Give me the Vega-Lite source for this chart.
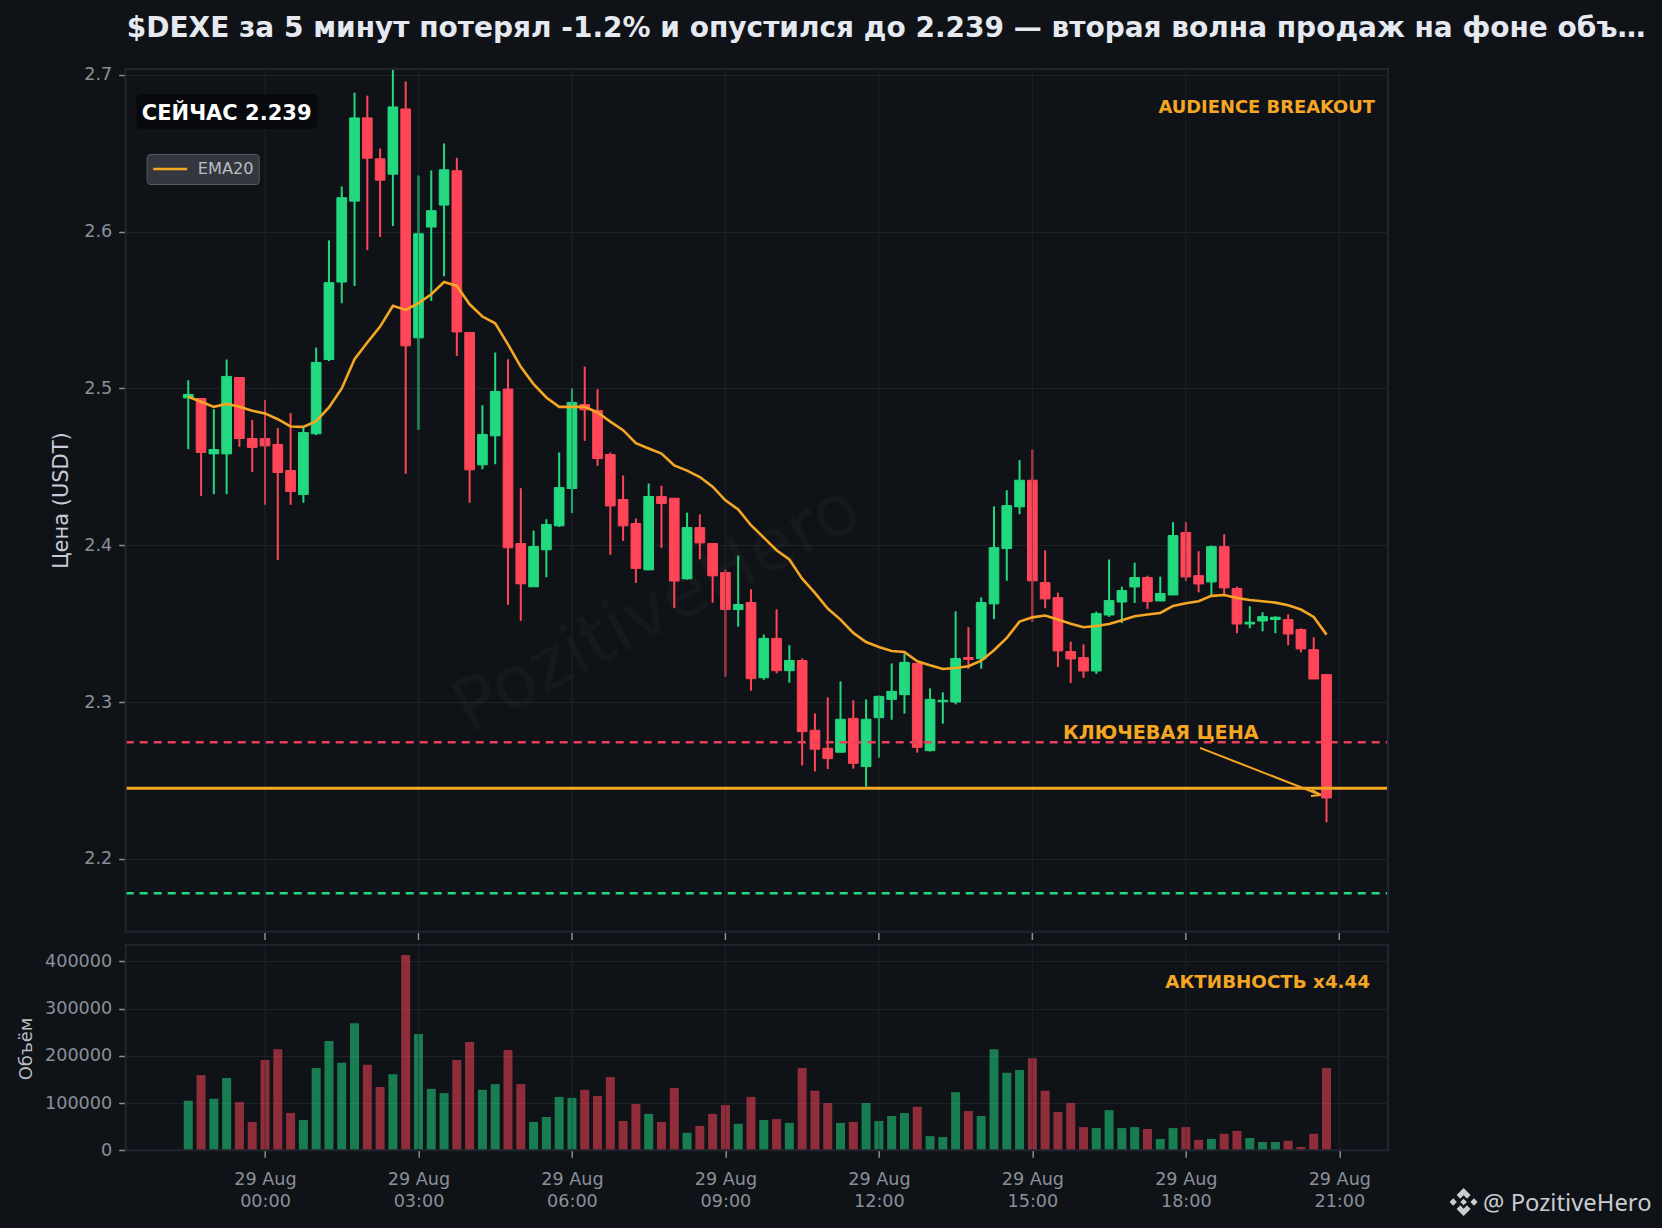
{
  "$schema": "https://vega.github.io/schema/vega-lite/v6.json",
  "description": "DEXE 15 minute candles with EMA20 and volume",
  "background": "#0f1318",
  "autosize": {"type": "none"},
  "padding": {"left": 125.7, "top": 69, "right": 274, "bottom": 77.7},
  "width": 1262.3,
  "height": 1081.3,
  "title": {
    "text": "$DEXE за 5 минут потерял -1.2% и опустился до 2.239 — вторая волна продаж на фоне объ…",
    "anchor": "start",
    "frame": "group",
    "font": "DejaVu Sans",
    "fontSize": 28,
    "fontWeight": "bold",
    "color": "#e6e9f0",
    "baseline": "alphabetic",
    "offset": 1.3,
    "dx": 1
  },
  "datasets": {
    "candles": [
      {"hour":-1.5,"open":2.4940,"high":2.5053,"low":2.4613,"close":2.4962,"volume":105000,"ema":2.4947},
      {"hour":-1.25,"open":2.4936,"high":2.4936,"low":2.4315,"close":2.4592,"volume":159000,"ema":2.4915},
      {"hour":-1,"open":2.4583,"high":2.4868,"low":2.4326,"close":2.4611,"volume":109000,"ema":2.4883},
      {"hour":-0.75,"open":2.4583,"high":2.5185,"low":2.4326,"close":2.5077,"volume":153000,"ema":2.4902},
      {"hour":-0.5,"open":2.5070,"high":2.5070,"low":2.4628,"close":2.4681,"volume":102000,"ema":2.4883},
      {"hour":-0.25,"open":2.4681,"high":2.4798,"low":2.4468,"close":2.4624,"volume":60000,"ema":2.4858},
      {"hour":0,"open":2.4681,"high":2.4926,"low":2.4258,"close":2.4634,"volume":191000,"ema":2.4841},
      {"hour":0.25,"open":2.4643,"high":2.4747,"low":2.3905,"close":2.4464,"volume":214000,"ema":2.4804},
      {"hour":0.5,"open":2.4477,"high":2.4843,"low":2.4258,"close":2.4343,"volume":79000,"ema":2.4758},
      {"hour":0.75,"open":2.4324,"high":2.4751,"low":2.4271,"close":2.4719,"volume":64000,"ema":2.4755},
      {"hour":1,"open":2.4711,"high":2.5261,"low":2.4702,"close":2.5166,"volume":174000,"ema":2.4792},
      {"hour":1.25,"open":2.5185,"high":2.5945,"low":2.5175,"close":2.5675,"volume":231000,"ema":2.4879},
      {"hour":1.5,"open":2.5679,"high":2.6289,"low":2.5544,"close":2.6217,"volume":185000,"ema":2.5000},
      {"hour":1.75,"open":2.6195,"high":2.6887,"low":2.5654,"close":2.6726,"volume":269000,"ema":2.5187},
      {"hour":2,"open":2.6726,"high":2.6868,"low":2.5883,"close":2.6469,"volume":181000,"ema":2.5293},
      {"hour":2.25,"open":2.6465,"high":2.6531,"low":2.5966,"close":2.6329,"volume":134000,"ema":2.5395},
      {"hour":2.5,"open":2.6367,"high":2.7034,"low":2.6036,"close":2.6796,"volume":161000,"ema":2.5527},
      {"hour":2.75,"open":2.6783,"high":2.6958,"low":2.4456,"close":2.5272,"volume":413000,"ema":2.5501},
      {"hour":3,"open":2.5323,"high":2.6359,"low":2.4736,"close":2.5987,"volume":246000,"ema":2.5544},
      {"hour":3.25,"open":2.6030,"high":2.6391,"low":2.5558,"close":2.6134,"volume":130000,"ema":2.5601},
      {"hour":3.5,"open":2.6170,"high":2.6563,"low":2.5716,"close":2.6395,"volume":121000,"ema":2.5679},
      {"hour":3.75,"open":2.6389,"high":2.6471,"low":2.5208,"close":2.5361,"volume":191000,"ema":2.5654},
      {"hour":4,"open":2.5357,"high":2.5357,"low":2.4271,"close":2.4481,"volume":229000,"ema":2.5537},
      {"hour":4.25,"open":2.4513,"high":2.4894,"low":2.4485,"close":2.4707,"volume":128000,"ema":2.5459},
      {"hour":4.5,"open":2.4698,"high":2.5229,"low":2.4517,"close":2.4981,"volume":140000,"ema":2.5416},
      {"hour":4.75,"open":2.4996,"high":2.5187,"low":2.3620,"close":2.3984,"volume":212000,"ema":2.5282},
      {"hour":5,"open":2.4011,"high":2.4364,"low":2.3518,"close":2.3754,"volume":140000,"ema":2.5138},
      {"hour":5.25,"open":2.3735,"high":2.4094,"low":2.3735,"close":2.3992,"volume":60000,"ema":2.5028},
      {"hour":5.5,"open":2.3971,"high":2.4166,"low":2.3796,"close":2.4132,"volume":70500,"ema":2.4943},
      {"hour":5.75,"open":2.4124,"high":2.4592,"low":2.4117,"close":2.4368,"volume":113000,"ema":2.4883},
      {"hour":6,"open":2.4362,"high":2.5000,"low":2.4205,"close":2.4911,"volume":111000,"ema":2.4883},
      {"hour":6.25,"open":2.4898,"high":2.5140,"low":2.4666,"close":2.4864,"volume":128000,"ema":2.4883},
      {"hour":6.5,"open":2.4860,"high":2.4996,"low":2.4507,"close":2.4553,"volume":115000,"ema":2.4847},
      {"hour":6.75,"open":2.4579,"high":2.4592,"low":2.3939,"close":2.4251,"volume":155000,"ema":2.4789},
      {"hour":7,"open":2.4292,"high":2.4445,"low":2.4028,"close":2.4124,"volume":62000,"ema":2.4734},
      {"hour":7.25,"open":2.4139,"high":2.4171,"low":2.3760,"close":2.3852,"volume":98000,"ema":2.4651},
      {"hour":7.5,"open":2.3843,"high":2.4394,"low":2.3843,"close":2.4311,"volume":77000,"ema":2.4617},
      {"hour":7.75,"open":2.4311,"high":2.4380,"low":2.3983,"close":2.4266,"volume":60000,"ema":2.4585},
      {"hour":8,"open":2.4300,"high":2.4300,"low":2.3600,"close":2.3772,"volume":132000,"ema":2.4509},
      {"hour":8.25,"open":2.3786,"high":2.4208,"low":2.3781,"close":2.4113,"volume":37000,"ema":2.4476},
      {"hour":8.5,"open":2.4113,"high":2.4197,"low":2.3911,"close":2.4015,"volume":51500,"ema":2.4435},
      {"hour":8.75,"open":2.4011,"high":2.4011,"low":2.3633,"close":2.3805,"volume":77000,"ema":2.4374},
      {"hour":9,"open":2.3826,"high":2.3845,"low":2.3161,"close":2.3590,"volume":96000,"ema":2.4287},
      {"hour":9.25,"open":2.3590,"high":2.3934,"low":2.3480,"close":2.3622,"volume":56000,"ema":2.4228},
      {"hour":9.5,"open":2.3635,"high":2.3720,"low":2.3072,"close":2.3149,"volume":113000,"ema":2.4128},
      {"hour":9.75,"open":2.3155,"high":2.3431,"low":2.3142,"close":2.3406,"volume":64000,"ema":2.4049},
      {"hour":10,"open":2.3406,"high":2.3592,"low":2.3183,"close":2.3200,"volume":66000,"ema":2.3968},
      {"hour":10.25,"open":2.3200,"high":2.3363,"low":2.3123,"close":2.3265,"volume":58000,"ema":2.3909},
      {"hour":10.5,"open":2.3265,"high":2.3278,"low":2.2595,"close":2.2811,"volume":174000,"ema":2.3787},
      {"hour":10.75,"open":2.2820,"high":2.2928,"low":2.2557,"close":2.2699,"volume":126000,"ema":2.3696},
      {"hour":11,"open":2.2705,"high":2.3030,"low":2.2573,"close":2.2639,"volume":100000,"ema":2.3596},
      {"hour":11.25,"open":2.2680,"high":2.3132,"low":2.2680,"close":2.2890,"volume":58000,"ema":2.3526},
      {"hour":11.5,"open":2.2896,"high":2.3011,"low":2.2575,"close":2.2609,"volume":60000,"ema":2.3441},
      {"hour":11.75,"open":2.2588,"high":2.3017,"low":2.2461,"close":2.2890,"volume":100000,"ema":2.3383},
      {"hour":12,"open":2.2900,"high":2.3042,"low":2.2645,"close":2.3036,"volume":62000,"ema":2.3351},
      {"hour":12.25,"open":2.3017,"high":2.3246,"low":2.2887,"close":2.3068,"volume":72600,"ema":2.3326},
      {"hour":12.5,"open":2.3047,"high":2.3310,"low":2.2926,"close":2.3253,"volume":79000,"ema":2.3319},
      {"hour":12.75,"open":2.3246,"high":2.3246,"low":2.2677,"close":2.2711,"volume":92000,"ema":2.3260},
      {"hour":13,"open":2.2690,"high":2.3087,"low":2.2684,"close":2.3017,"volume":30000,"ema":2.3234},
      {"hour":13.25,"open":2.3002,"high":2.3062,"low":2.2862,"close":2.3011,"volume":28000,"ema":2.3211},
      {"hour":13.5,"open":2.3000,"high":2.3578,"low":2.2985,"close":2.3278,"volume":123000,"ema":2.3217},
      {"hour":13.75,"open":2.3284,"high":2.3478,"low":2.3212,"close":2.3272,"volume":83000,"ema":2.3228},
      {"hour":14,"open":2.3276,"high":2.3667,"low":2.3212,"close":2.3635,"volume":72600,"ema":2.3264},
      {"hour":14.25,"open":2.3626,"high":2.4248,"low":2.3529,"close":2.3985,"volume":214000,"ema":2.3330},
      {"hour":14.5,"open":2.3979,"high":2.4351,"low":2.3773,"close":2.4253,"volume":164000,"ema":2.3409},
      {"hour":14.75,"open":2.4245,"high":2.4543,"low":2.4198,"close":2.4415,"volume":170000,"ema":2.3513},
      {"hour":15,"open":2.4415,"high":2.4611,"low":2.3511,"close":2.3773,"volume":195000,"ema":2.3540},
      {"hour":15.25,"open":2.3762,"high":2.3968,"low":2.3598,"close":2.3658,"volume":126000,"ema":2.3552},
      {"hour":15.5,"open":2.3666,"high":2.3698,"low":2.3224,"close":2.3326,"volume":81000,"ema":2.3526},
      {"hour":15.75,"open":2.3322,"high":2.3385,"low":2.3122,"close":2.3275,"volume":100000,"ema":2.3500},
      {"hour":16,"open":2.3283,"high":2.3368,"low":2.3154,"close":2.3198,"volume":49000,"ema":2.3477},
      {"hour":16.25,"open":2.3198,"high":2.3577,"low":2.3179,"close":2.3564,"volume":47000,"ema":2.3485},
      {"hour":16.5,"open":2.3555,"high":2.3909,"low":2.3543,"close":2.3647,"volume":85000,"ema":2.3498},
      {"hour":16.75,"open":2.3638,"high":2.3736,"low":2.3504,"close":2.3711,"volume":47000,"ema":2.3521},
      {"hour":17,"open":2.3734,"high":2.3889,"low":2.3632,"close":2.3794,"volume":49000,"ema":2.3547},
      {"hour":17.25,"open":2.3794,"high":2.3806,"low":2.3594,"close":2.3641,"volume":45000,"ema":2.3558},
      {"hour":17.5,"open":2.3645,"high":2.3800,"low":2.3645,"close":2.3692,"volume":24000,"ema":2.3568},
      {"hour":17.75,"open":2.3683,"high":2.4147,"low":2.3683,"close":2.4062,"volume":47000,"ema":2.3613},
      {"hour":18,"open":2.4081,"high":2.4147,"low":2.3772,"close":2.3798,"volume":49000,"ema":2.3630},
      {"hour":18.25,"open":2.3806,"high":2.3962,"low":2.3700,"close":2.3753,"volume":22000,"ema":2.3643},
      {"hour":18.5,"open":2.3766,"high":2.3998,"low":2.3681,"close":2.3991,"volume":24000,"ema":2.3677},
      {"hour":18.75,"open":2.3991,"high":2.4070,"low":2.3681,"close":2.3728,"volume":35000,"ema":2.3683},
      {"hour":19,"open":2.3724,"high":2.3736,"low":2.3439,"close":2.3498,"volume":41000,"ema":2.3664},
      {"hour":19.25,"open":2.3498,"high":2.3611,"low":2.3470,"close":2.3509,"volume":26000,"ema":2.3651},
      {"hour":19.5,"open":2.3517,"high":2.3573,"low":2.3451,"close":2.3545,"volume":17600,"ema":2.3643},
      {"hour":19.75,"open":2.3526,"high":2.3547,"low":2.3439,"close":2.3541,"volume":17600,"ema":2.3634},
      {"hour":20,"open":2.3526,"high":2.3560,"low":2.3362,"close":2.3434,"volume":20000,"ema":2.3617},
      {"hour":20.25,"open":2.3462,"high":2.3470,"low":2.3317,"close":2.3339,"volume":7000,"ema":2.3590},
      {"hour":20.5,"open":2.3334,"high":2.3413,"low":2.3147,"close":2.3147,"volume":35000,"ema":2.3543},
      {"hour":20.75,"open":2.3175,"high":2.3175,"low":2.2233,"close":2.2388,"volume":174000,"ema":2.3430}
    ],
    "hours": [{"hour":0},{"hour":3},{"hour":6},{"hour":9},{"hour":12},{"hour":15},{"hour":18},{"hour":21}],
    "span": [{"hour":-2.7231,"hour2":21.952}]
  },
  "config": {
    "view": {"stroke": null},
    "axis": {
      "zindex": 1,
      "gridColor": "#2a2e36",
      "gridOpacity": 0.55,
      "gridWidth": 1,
      "domain": false,
      "tickColor": "#8b8f98",
      "tickSize": 7,
      "tickWidth": 1.5,
      "labelColor": "#8b8f98",
      "labelFont": "DejaVu Sans",
      "labelFontSize": 17.6,
      "labelPadding": 7,
      "titleFont": "DejaVu Sans",
      "titleFontWeight": "normal"
    }
  },
  "encoding": {
    "x": {
      "field": "hour",
      "type": "quantitative",
      "title": null,
      "scale": {"domain": [-2.7231, 21.952], "nice": false, "zero": false, "padding": 0},
      "axis": {
        "grid": false,
        "values": [0, 3, 6, 9, 12, 15, 18, 21],
        "labelExpr": "['29 Aug', (datum.value < 10 ? '0' : '') + datum.value + ':00']",
        "labelLineHeight": 22.5,
        "labelPadding": 13
      }
    }
  },
  "layer": [
    {
      "layer": [
        {
          "data": {"values": [{"hour": 7.661, "price": 2.3592, "label": "PozitiveHero"}]},
          "mark": {"type": "text", "font": "DejaVu Sans", "fontSize": 72, "angle": 332, "color": "#ffffff", "opacity": 0.025, "align": "center", "baseline": "middle"},
          "encoding": {
            "y": {
              "field": "price",
              "type": "quantitative",
              "title": "Цена (USDT)",
              "scale": {"domain": [2.1535, 2.7038], "range": [862.7, 0], "nice": false, "zero": false},
              "axis": {"orient": "left", "grid": true, "values": [2.2, 2.3, 2.4, 2.5, 2.6, 2.7], "format": ".1f", "titleColor": "#c8ccd4", "titleFontSize": 21, "titleX": -54, "titleY": 431}
            },
            "text": {"field": "label"}
          }
        },
        {
          "data": {"name": "candles"},
          "mark": {"type": "rule", "strokeWidth": 2},
          "encoding": {
            "y": {"field": "low", "type": "quantitative"},
            "y2": {"field": "high"},
            "color": {"condition": {"test": "datum.close >= datum.open", "value": "#22d97f"}, "value": "#ff4557"}
          }
        },
        {
          "data": {"name": "candles"},
          "mark": {"type": "bar", "size": 9.7, "strokeWidth": 1},
          "encoding": {
            "y": {"field": "open", "type": "quantitative"},
            "y2": {"field": "close"},
            "color": {"condition": {"test": "datum.close >= datum.open", "value": "#22d97f"}, "value": "#ff4557"},
            "stroke": {"condition": {"test": "datum.close >= datum.open", "value": "#22d97f"}, "value": "#ff4557"}
          }
        },
        {
          "data": {"name": "hours"},
          "mark": {"type": "rule", "color": "#2a2e36", "opacity": 0.55, "strokeWidth": 1},
          "encoding": {"y": {"datum": 2.1535, "type": "quantitative"}, "y2": {"datum": 2.7038}}
        },
        {
          "data": {"name": "hours"},
          "mark": {"type": "rule", "color": "#8b8f98", "strokeWidth": 1.5},
          "encoding": {"y": {"datum": 2.1527, "type": "quantitative"}, "y2": {"datum": 2.1482}}
        },
        {
          "data": {"values": [{"hour": -2.7231, "hour2": 21.952, "price": 2.2743}]},
          "mark": {"type": "rule", "color": "#e8405a", "strokeWidth": 2.4, "strokeDash": [8, 6]},
          "encoding": {"x2": {"field": "hour2"}, "y": {"field": "price", "type": "quantitative"}}
        },
        {
          "data": {"values": [{"hour": -2.7231, "hour2": 21.952, "price": 2.178}]},
          "mark": {"type": "rule", "color": "#22d97f", "strokeWidth": 2.4, "strokeDash": [8, 6]},
          "encoding": {"x2": {"field": "hour2"}, "y": {"field": "price", "type": "quantitative"}}
        },
        {
          "data": {"values": [{"hour": -2.7231, "hour2": 21.952, "price": 2.245}]},
          "mark": {"type": "rule", "color": "#f5a623", "strokeWidth": 3.2},
          "encoding": {"x2": {"field": "hour2"}, "y": {"field": "price", "type": "quantitative"}}
        },
        {
          "data": {"name": "candles"},
          "mark": {"type": "line", "strokeWidth": 2.6},
          "encoding": {
            "y": {"field": "ema", "type": "quantitative"},
            "stroke": {
              "datum": "EMA20",
              "scale": {"domain": ["EMA20"], "range": ["#f5a623"]},
              "legend": {
                "title": null,
                "orient": "none",
                "legendX": 21,
                "legendY": 85,
                "padding": 5,
                "fillColor": "#34373e",
                "strokeColor": "#565a62",
                "cornerRadius": 3,
                "symbolType": "stroke",
                "symbolSize": 1156,
                "symbolStrokeWidth": 2.6,
                "clipHeight": 20,
                "labelFont": "DejaVu Sans",
                "labelFontSize": 16.2,
                "labelColor": "#b9bcc2",
                "labelOffset": 9
              }
            }
          }
        },
        {
          "data": {"values": [
            {"hour": 18.277, "hour2": 20.636, "price": 2.2708, "price2": 2.2407},
            {"hour": 20.447, "hour2": 20.636, "price": 2.2400, "price2": 2.2407},
            {"hour": 20.46, "hour2": 20.636, "price": 2.2439, "price2": 2.2407}
          ]},
          "mark": {"type": "rule", "color": "#f5a623", "strokeWidth": 2},
          "encoding": {
            "x2": {"field": "hour2"},
            "y": {"field": "price", "type": "quantitative"},
            "y2": {"field": "price2"}
          }
        },
        {
          "data": {"values": [{"hour": -2.514, "hour2": 1.0165, "price": 2.6879, "price2": 2.6656}]},
          "mark": {"type": "rect", "color": "#07090c", "cornerRadius": 4},
          "encoding": {
            "x2": {"field": "hour2"},
            "y": {"field": "price", "type": "quantitative"},
            "y2": {"field": "price2"}
          }
        },
        {
          "data": {"values": [{"hour": -2.408, "price": 2.6753, "label": "СЕЙЧАС 2.239"}]},
          "mark": {"type": "text", "font": "DejaVu Sans", "fontSize": 21, "fontWeight": "bold", "color": "#ffffff", "align": "left", "baseline": "middle"},
          "encoding": {"y": {"field": "price", "type": "quantitative"}, "text": {"field": "label"}}
        },
        {
          "data": {"values": [{"hour": 21.698, "price": 2.6789, "label": "AUDIENCE BREAKOUT"}]},
          "mark": {"type": "text", "font": "DejaVu Sans", "fontSize": 17.9, "fontWeight": "bold", "color": "#f5a623", "align": "right", "baseline": "middle"},
          "encoding": {"y": {"field": "price", "type": "quantitative"}, "text": {"field": "label"}}
        },
        {
          "data": {"values": [{"hour": 15.6, "price": 2.2805, "label": "КЛЮЧЕВАЯ ЦЕНА"}]},
          "mark": {"type": "text", "font": "DejaVu Sans", "fontSize": 19.2, "fontWeight": "bold", "color": "#f5a623", "align": "left", "baseline": "middle"},
          "encoding": {"y": {"field": "price", "type": "quantitative"}, "text": {"field": "label"}}
        },
        {
          "data": {"name": "span"},
          "mark": {"type": "rect", "fillOpacity": 0, "stroke": "#21252d", "strokeWidth": 2},
          "encoding": {"x2": {"field": "hour2"}, "y": {"datum": 2.7038, "type": "quantitative"}, "y2": {"datum": 2.1535}}
        }
      ]
    },
    {
      "layer": [
        {
          "data": {"name": "candles"},
          "mark": {"type": "bar", "size": 9, "opacity": 0.54},
          "encoding": {
            "y": {
              "field": "volume",
              "type": "quantitative",
              "title": "Объём",
              "scale": {"domain": [0, 435000], "range": [1081.3, 875.7], "nice": false},
              "axis": {"orient": "left", "grid": true, "values": [0, 100000, 200000, 300000, 400000], "format": "d", "titleColor": "#b9bcc2", "titleFontSize": 18, "titleX": -90.6, "titleY": 979.5}
            },
            "color": {"condition": {"test": "datum.close >= datum.open", "value": "#22d97f"}, "value": "#ff4557"}
          }
        },
        {
          "data": {"name": "hours"},
          "mark": {"type": "rule", "color": "#2a2e36", "opacity": 0.55, "strokeWidth": 1},
          "encoding": {"y": {"datum": 0, "type": "quantitative"}, "y2": {"datum": 435000}}
        },
        {
          "data": {"values": [{"hour": 21.6, "volume": 353000, "label": "АКТИВНОСТЬ x4.44"}]},
          "mark": {"type": "text", "font": "DejaVu Sans", "fontSize": 18.3, "fontWeight": "bold", "color": "#f5a623", "align": "right", "baseline": "middle"},
          "encoding": {"y": {"field": "volume", "type": "quantitative"}, "text": {"field": "label"}}
        },
        {
          "data": {"values": [{"hour": 23.81, "volume": -114000, "label": "@ PozitiveHero"}]},
          "mark": {"type": "text", "font": "Noto Sans", "fontSize": 23.8, "color": "#c9ccd2", "align": "left", "baseline": "middle"},
          "encoding": {"y": {"field": "volume", "type": "quantitative"}, "text": {"field": "label"}}
        },
        {
          "data": {"values": [{"hour": 23.43, "volume": -109400}]},
          "mark": {
            "type": "point",
            "filled": true,
            "opacity": 1,
            "size": 784,
            "color": "#c9ccd2",
            "shape": "M0,-1L0.5,-0.5L0.24,-0.24L0,-0.48L-0.24,-0.24L-0.5,-0.5ZM0,1L0.5,0.5L0.24,0.24L0,0.48L-0.24,0.24L-0.5,0.5ZM-0.74,-0.26L-0.48,0L-0.74,0.26L-1,0ZM0.74,-0.26L1,0L0.74,0.26L0.48,0ZM0,-0.24L0.24,0L0,0.24L-0.24,0Z"
          },
          "encoding": {"y": {"field": "volume", "type": "quantitative"}}
        },
        {
          "data": {"name": "span"},
          "mark": {"type": "rect", "fillOpacity": 0, "stroke": "#21252d", "strokeWidth": 2},
          "encoding": {"x2": {"field": "hour2"}, "y": {"datum": 435000, "type": "quantitative"}, "y2": {"datum": 0}}
        }
      ]
    }
  ],
  "resolve": {"scale": {"y": "independent"}, "axis": {"y": "independent"}}
}
